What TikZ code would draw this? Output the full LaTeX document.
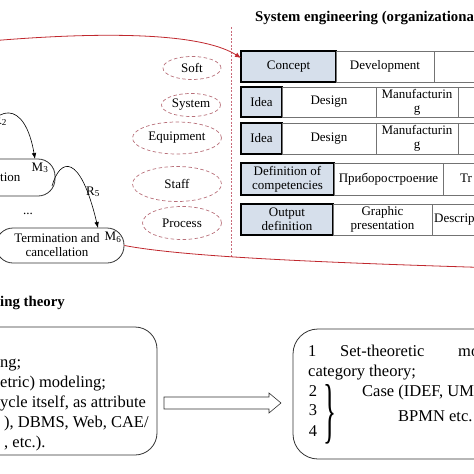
\documentclass[tikz,border=0pt]{standalone}
\usepackage{fontspec}
\setmainfont{Liberation Serif}
\usepackage{xcolor}
\usepackage{tikz}
\usetikzlibrary{calc}
\usetikzlibrary{positioning}
\usetikzlibrary{shapes.geometric}
\usetikzlibrary{arrows.meta}

\definecolor{keyfill}{HTML}{D6DFEB}
\definecolor{factorred}{HTML}{B8707A}
\definecolor{linkred}{HTML}{C0282E}
\definecolor{borderred}{HTML}{C96A7A}

\begin{document}
\begin{tikzpicture}[x=1pt, y=-1pt]

                \useasboundingbox (0,0) rectangle (474,474);
                \clip (0,0) rectangle (474,474);

                % Looks of the cells, factors, stages and links
                \tikzset{
                    cell/.style={draw=black!55, line width=0.5pt, inner sep=1pt,
                        outer sep=0pt, align=center,
                        font=\fontsize{13}{14}\selectfont},
                    keycell/.style={cell, fill=keyfill, draw=black, line width=1.3pt},
                    factor/.style={ellipse, draw=factorred, line width=0.7pt,
                        dash pattern=on 3.5pt off 2.5pt,
                        inner sep=0pt, font=\fontsize{13}{14}\selectfont},
                    stage/.style={draw=black!80, line width=0.8pt, rounded corners=17pt},
                    plain/.style={inner sep=0pt, font=\fontsize{13}{14}\selectfont,
                        text height=9pt, text depth=3pt},
                    body/.style={inner sep=0pt, font=\fontsize{16.5}{20}\selectfont},
                    bodyline/.style={body, text height=11.5pt, text depth=3.5pt},
                    heading/.style={inner sep=0pt, font=\bfseries\fontsize{14.8}{16}\selectfont},
                    flow/.style={-{Latex[length=6pt, width=4.5pt]}, line width=0.6pt},
                    link/.style={draw=linkred, line width=0.8pt}
                }

                % Life cycle stages on the left
                \begin{scope}
                    \node[stage, minimum width=120pt, minimum height=37pt] (oper) at (-5,177.5) {};
                    \node[plain, anchor=west] (opertext) at (0,178) {tion};
                    \node[plain] (m3) at (40,168) {M\textsubscript{3}};
                    \node[plain] (dots) at (28,211) {...};
                    \node[stage, minimum width=128pt, minimum height=35pt] (termbox) at (60,245.5) {};
                    \node[inner sep=0pt, align=center, font=\fontsize{13}{13.5}\selectfont]
                        (term) at (57,245) {Termination and\\cancellation};
                    \node[plain] (m6) at (113,237.5) {M\textsubscript{6}};
                    \node[plain, anchor=east] (r2) at (7,121) {R\textsubscript{2}};
                    \node[plain] (r5) at (93,192) {R\textsubscript{5}};

                    \coordinate (r2from) at (-25,150);
                    \coordinate (m3in) at (35,159);
                    \coordinate (r5from) at (52,186);
                    \coordinate (m6in) at (98,228);
                \end{scope}

                \draw[flow] (r2from) .. controls (-5,100) and (25,100) .. (m3in);
                \draw[flow] (r5from) .. controls (60,158) and (80,152) .. (m6in);

                % Factors
                \node[factor, minimum width=58pt, minimum height=23pt] (soft) at (192,68) {Soft};
                \node[factor, minimum width=59pt, minimum height=23pt] (system) at (191,105) {System};
                \node[factor, minimum width=89pt, minimum height=32pt] (equip) at (177,138) {Equipment};
                \node[factor, minimum width=89pt, minimum height=35pt] (staff) at (177,184) {Staff};
                \node[factor, minimum width=79pt, minimum height=33pt] (process) at (182,223) {Process};

                % Border between the two parts
                \coordinate (bordertop) at (231,27);
                \coordinate (borderbot) at (231,258);
                \draw[borderred, line width=0.8pt, dash pattern=on 2pt off 1.5pt] (bordertop) -- (borderbot);

                % System engineering table
                \node[heading, anchor=west] (setitle) at (255,18) {System engineering (organizational};

                \begin{scope}[every node/.append style={anchor=west}]
                    \node[keycell, minimum width=95pt, minimum height=31pt] (concept) at (241,66.5) {Concept};
                    \node[cell, minimum width=98pt, minimum height=31pt, right=0pt of concept] (devel) {Development};
                    \node[cell, minimum width=90pt, minimum height=31pt, right=0pt of devel] (row1end) {};

                    \node[keycell, minimum width=41pt, minimum height=30pt] (idea1) at (241,102) {Idea};
                    \node[cell, minimum width=94pt, minimum height=30pt, right=0pt of idea1] (design1) {Design};
                    \node[cell, minimum width=82pt, minimum height=30pt, right=0pt of design1] (manuf1) {Manufacturin\\g};
                    \node[cell, minimum width=90pt, minimum height=30pt, right=0pt of manuf1] (row2end) {};

                    \node[keycell, minimum width=41pt, minimum height=31pt] (idea2) at (241,138.5) {Idea};
                    \node[cell, minimum width=94pt, minimum height=31pt, right=0pt of idea2] (design2) {Design};
                    \node[cell, minimum width=82pt, minimum height=31pt, right=0pt of design2] (manuf2) {Manufacturin\\g};
                    \node[cell, minimum width=90pt, minimum height=31pt, right=0pt of manuf2] (row3end) {};

                    \node[keycell, minimum width=93pt, minimum height=32pt] (compet) at (241,179) {Definition of\\competencies};
                    \node[cell, minimum width=109pt, minimum height=32pt, right=0pt of compet] (instr) {Приборостроение};
                    \node[cell, minimum width=90pt, minimum height=32pt, right=0pt of instr] (row4end) {};
                    \node[plain] (trtext) at (460,179) {Tr};

                    \node[keycell, minimum width=92pt, minimum height=31pt] (output) at (241,219.5) {Output\\definition};
                    \node[cell, minimum width=99pt, minimum height=31pt, right=0pt of output] (graphic) {Graphic\\presentation};
                    \node[cell, minimum width=90pt, minimum height=31pt, right=0pt of graphic] (row5end) {};
                    \node[plain] (desctext) at (434,219.5) {Descrip};
                \end{scope}

                % Links from the stages to the table
                \coordinate (linkfrom) at (-10,41);
                \coordinate (linkto) at (500,268);
                \draw[link, -{Latex[length=6pt, width=5pt]}] (linkfrom) .. controls (120,30) and (205,35) .. ([yshift=8.5pt]concept.west);
                \draw[link] (termbox.east) .. controls (180,256) and (300,262) .. (linkto);

                % Modeling theory
                \node[heading, anchor=west] (mttitle) at (0,303) {ing theory};
                \node[stage, rounded corners=22pt, minimum width=310pt, minimum height=128pt] (theory) at (2,391) {};
                \node[body, anchor=north west, align=left] (theorytext) at (0,359)
                    {ng;\\etric) modeling;\\ycle itself, as attribute\\\hspace{4pt}), DBMS, Web, CAE/\\\hspace{4pt}, etc.).};

                % Hollow arrow between the two boxes
                \coordinate (shiftfrom) at (164,403);
                \coordinate (shiftto) at (281,403);
                \draw[black!80, line width=0.6pt, line join=miter]
                    ($(shiftfrom)+(0,-6)$) -- ($(shiftto)+(-12,-6)$) -- ($(shiftto)+(-12,-10)$)
                    -- (shiftto) -- ($(shiftto)+(-12,10)$) -- ($(shiftto)+(-12,6)$)
                    -- ($(shiftfrom)+(0,6)$) -- cycle;

                \node[stage, rounded corners=25pt, minimum width=320pt, minimum height=130pt] (tools) at (453,394) {};
                \node[bodyline, anchor=west] (one) at (308,352) {1};
                \node[bodyline, anchor=west] (settheo) at (340,352) {Set-theoretic};
                \node[bodyline, anchor=west] (mo) at (458,352) {mo};
                \node[bodyline, anchor=west] (category) at (308,372) {category theory;};
                \node[bodyline] (two) at (313,392) {2};
                \node[bodyline] (three) at (313,411) {3};
                \node[bodyline] (four) at (313,432) {4};
                \node[inner sep=0pt] (brace) at (330,414) {\resizebox{13pt}{50pt}{\}}};
                \node[bodyline, anchor=west] (case) at (362,392) {Case (IDEF, UM};
                \node[bodyline, anchor=west] (bpmn) at (398,417) {BPMN etc.};

                \end{tikzpicture}
\end{document}
